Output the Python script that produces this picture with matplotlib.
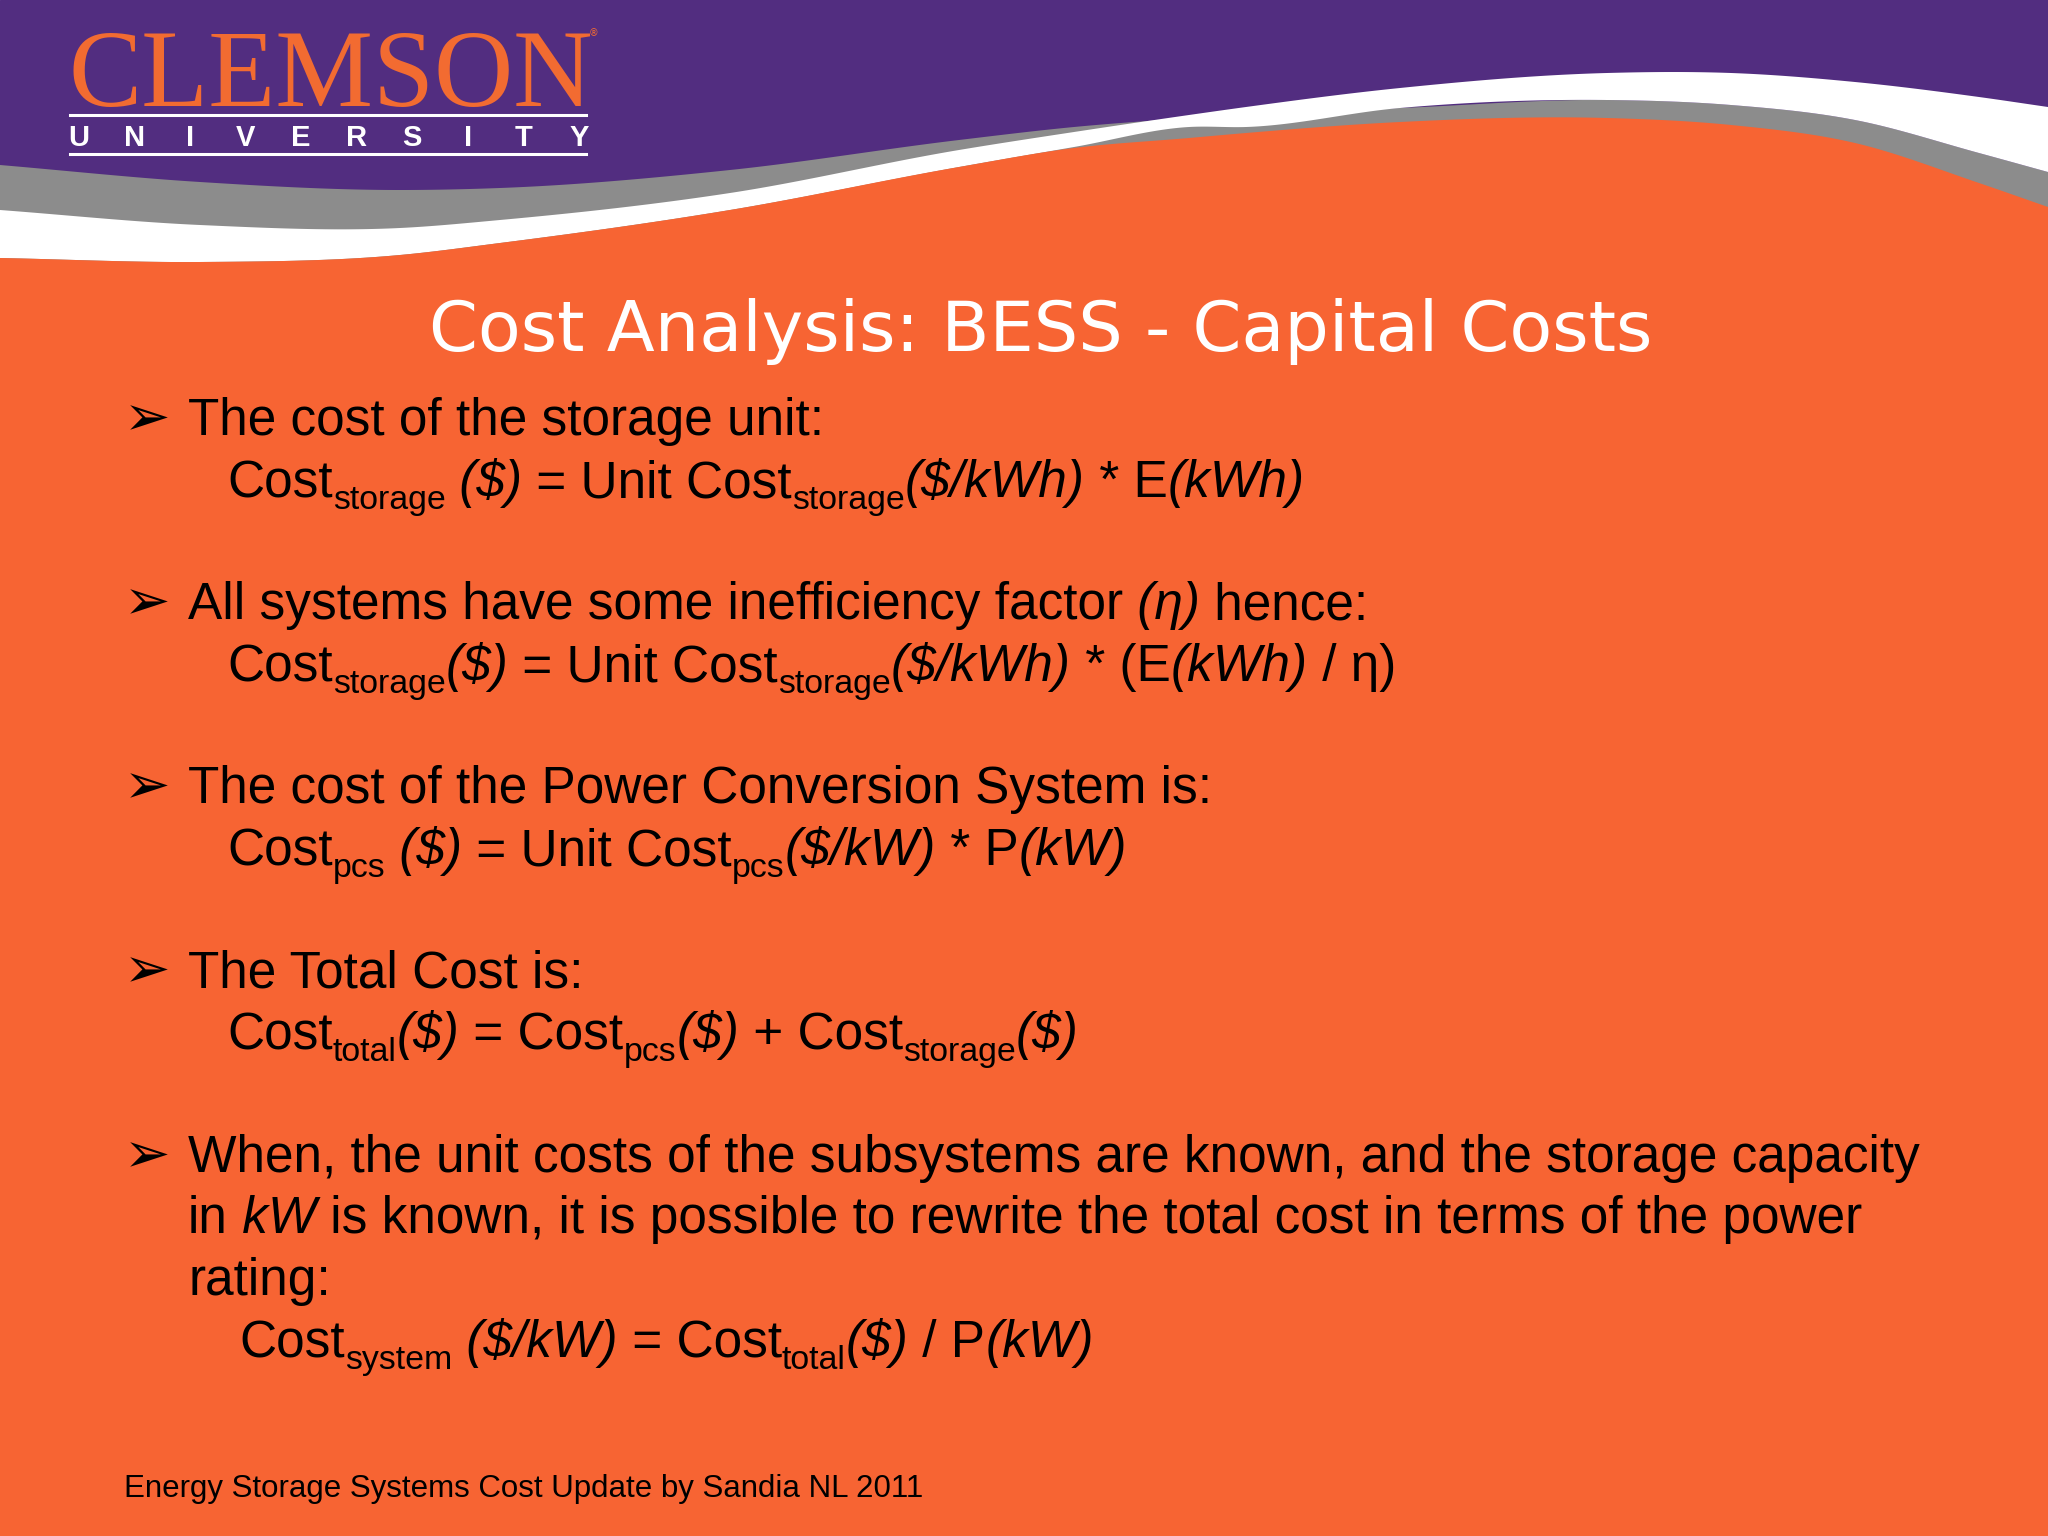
"""Clemson slide: Cost Analysis, BESS capital costs."""

import matplotlib

matplotlib.use("Agg")
import matplotlib.pyplot as plt
import numpy as np
from matplotlib.patches import Rectangle

W, H = 2048, 1536

PURPLE = "#522D80"
ORANGE = "#F76433"
LOGO_ORANGE = "#F26B31"
GRAY = "#8C8C8C"

BODY_FONT = "Liberation Sans"
BODY_SIZE = 37
SUB_RATIO = 0.66
SUB_DROP = 12

TITLE = "Cost Analysis: BESS - Capital Costs"
FOOTER = "Energy Storage Systems Cost Update by Sandia NL 2011"

# swoosh outline (pixel coords, y from top)
SW_X = [0, 200, 400, 500, 730, 959, 1074, 1189, 1246, 1400, 1607, 1731, 1855, 1979, 2048]
GRAY_TOP = [165, 182, 190, 188, 170, 140, 127, 118, 114, 108, 100, 105, 120, 153, 172]
WHITE_TOP = [210, 225, 228, 220, 193, 150, 132, 115, 107, 88, 73, 73, 82, 97, 107]
WHITE_BOT = [258, 262, 255, 243, 210, 167, 147, 127, 127, 108, 100, 105, 120, 153, 172]
ORANGE_TOP = [258, 262, 255, 243, 210, 167, 148, 138, 133, 122, 118, 125, 143, 183, 207]

# text runs: n = normal, i = italic, s = subscript
BULLETS = [
    [("The cost of the storage unit:", "n")],
    [("All systems have some inefficiency factor", "n"), (" (η)", "i"), (" hence:", "n")],
    [("The cost of the Power Conversion System is:", "n")],
    [("The Total Cost is:", "n")],
    [("When, the unit costs of the subsystems are known, and the storage capacity", "n")],
]
BULLET_Y = [435, 619, 803, 987, 1172]

LINES = [
    [("Cost", "n"), ("storage", "s"), (" ($)", "i"), (" = Unit Cost", "n"), ("storage", "s"),
     ("($/kWh)", "i"), (" * E", "n"), ("(kWh)", "i")],
    [("Cost", "n"), ("storage", "s"), ("($)", "i"), (" = Unit Cost", "n"), ("storage", "s"),
     ("($/kWh)", "i"), (" * (E", "n"), ("(kWh)", "i"), (" / η)", "n")],
    [("Cost", "n"), ("pcs", "s"), (" ($)", "i"), (" = Unit Cost", "n"), ("pcs", "s"),
     ("($/kW)", "i"), (" * P", "n"), ("(kW)", "i")],
    [("Cost", "n"), ("total", "s"), ("($)", "i"), (" = Cost", "n"), ("pcs", "s"),
     ("($)", "i"), (" + Cost", "n"), ("storage", "s"), ("($)", "i")],
    [("in", "n"), (" kW", "i"), (" is known, it is possible to rewrite the total cost in terms of the power", "n")],
    [("rating:", "n")],
    [("Cost", "n"), ("system", "s"), (" ($/kW)", "i"), (" = Cost", "n"), ("total", "s"),
     ("($)", "i"), (" / P", "n"), ("(kW)", "i")],
]
LINES_X = [227, 227, 227, 227, 188, 188, 239]
LINES_Y = [497, 681, 865, 1049, 1233, 1295, 1357]


def smooth(xp, yp, xs):
    """Cubic Hermite curve through the outline points."""
    xp = np.asarray(xp, float)
    yp = np.asarray(yp, float)
    m = np.gradient(yp, xp)
    out = np.empty_like(xs)
    idx = np.clip(np.searchsorted(xp, xs) - 1, 0, len(xp) - 2)
    for k, x in enumerate(xs):
        i = idx[k]
        h = xp[i + 1] - xp[i]
        t = (x - xp[i]) / h
        h00 = 2 * t**3 - 3 * t**2 + 1
        h10 = t**3 - 2 * t**2 + t
        h01 = -2 * t**3 + 3 * t**2
        h11 = t**3 - t**2
        out[k] = h00 * yp[i] + h10 * h * m[i] + h01 * yp[i + 1] + h11 * h * m[i + 1]
    return out


def draw_runs(ax, renderer, x, y, runs):
    for txt, kind in runs:
        kw = dict(fontsize=BODY_SIZE, family=BODY_FONT, color="black",
                  ha="left", va="baseline", parse_math=False, zorder=10)
        yy = y
        if kind == "i":
            kw["style"] = "italic"
        elif kind == "s":
            kw["fontsize"] = BODY_SIZE * SUB_RATIO
            yy = y + SUB_DROP
        t = ax.text(x, yy, txt, **kw)
        x += t.get_window_extent(renderer).width


fig = plt.figure(figsize=(W / 100, H / 100), dpi=100)
ax = fig.add_axes([0, 0, 1, 1])
ax.set_xlim(0, W)
ax.set_ylim(H, 0)
ax.axis("off")
renderer = fig.canvas.get_renderer()

ax.add_patch(Rectangle((0, 0), W, H, color=PURPLE, zorder=0))
xs = np.linspace(0, W, 1200)
ax.fill_between(xs, smooth(SW_X, GRAY_TOP, xs), H, color=GRAY, lw=0, zorder=1)
ax.fill_between(xs, smooth(SW_X, WHITE_TOP, xs), smooth(SW_X, WHITE_BOT, xs),
                color="white", lw=0, zorder=2)
ax.fill_between(xs, smooth(SW_X, ORANGE_TOP, xs), H, color=ORANGE, lw=0, zorder=3)

# logo
ax.text(331, 106, "CLEMSON", family="Liberation Serif", fontsize=79,
        color=LOGO_ORANGE, ha="center", va="baseline", zorder=10)
ax.text(594, 33, "®", family="DejaVu Sans", fontsize=7, color=LOGO_ORANGE,
        ha="center", va="center", zorder=10)
ax.plot([70, 586], [115, 115], color="white", lw=2.2, zorder=10)
ax.plot([70, 586], [154, 154], color="white", lw=2.2, zorder=10)
for ch, cx in zip("UNIVERSITY", np.linspace(79, 579, 10)):
    ax.text(cx, 146, ch, family=["Liberation Sans Narrow", "Liberation Sans"],
            fontweight="bold", fontsize=21, color="white",
            ha="center", va="baseline", zorder=10)

ax.text(1041, 351, TITLE, family="DejaVu Sans", fontsize=50.5, color="white",
        ha="center", va="baseline", zorder=10)

for runs, y in zip(BULLETS, BULLET_Y):
    ax.text(124, y, "➢", family="DejaVu Sans", fontsize=40, color="black",
            ha="left", va="baseline", zorder=10)
    draw_runs(ax, renderer, 188, y, runs)

for runs, x, y in zip(LINES, LINES_X, LINES_Y):
    draw_runs(ax, renderer, x, y, runs)

ax.text(124, 1497, FOOTER, family=BODY_FONT, fontsize=22.5, color="black",
        ha="left", va="baseline", zorder=10)

fig.savefig("out.png", dpi=100)
plt.close(fig)
